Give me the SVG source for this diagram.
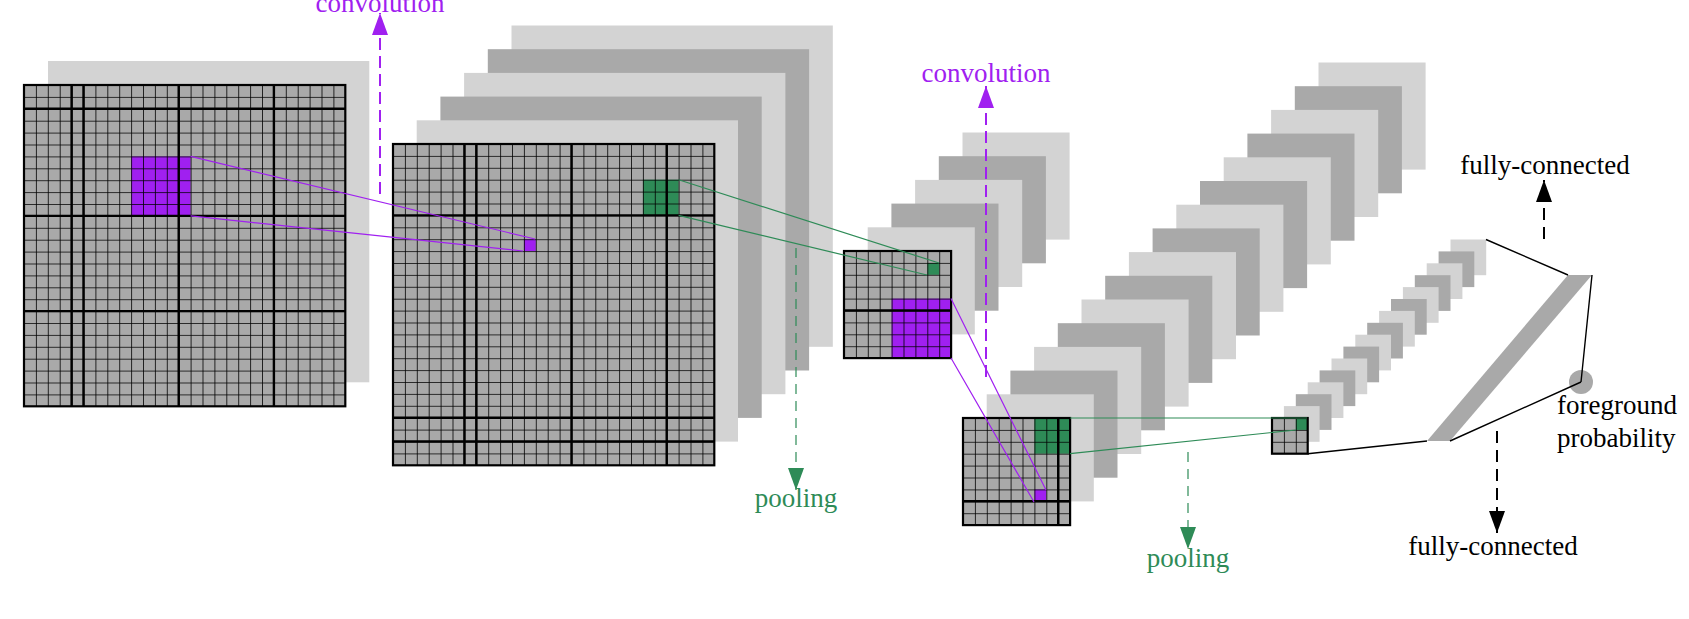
<svg xmlns="http://www.w3.org/2000/svg" width="1689" height="619" viewBox="0 0 1689 619">
<style>
.l{fill:#d3d3d3}.d{fill:#a9a9a9}
.cell{fill:#a9a9a9}
.thin{fill:url(#gp)}
.thk{stroke:#000;stroke-width:2.4;fill:none}
.bd{fill:none;stroke:#000;stroke-width:2.2}
.pp{fill:#a020f0}.gg{fill:#2e8b57}
.cp{stroke:#a020f0;stroke-width:1.2;fill:none}
.cg{stroke:#2e8b57;stroke-width:1.2;fill:none}
.ck{stroke:#000;stroke-width:1.4;fill:none}
text{font-family:"Liberation Serif",serif;font-size:27px}
</style>
<defs>
<pattern id="gp" patternUnits="userSpaceOnUse" width="11.9" height="11.9"><path d="M0 0H11.9M0 0V11.9" stroke="#000" stroke-width="1.6" fill="none"/></pattern>
<marker id="ap" viewBox="0 0 22 16" refX="22" refY="8" markerWidth="22" markerHeight="16" markerUnits="userSpaceOnUse" orient="auto"><path d="M0 0L22 8L0 16z" fill="#a020f0"/></marker>
<marker id="ag" viewBox="0 0 22 16" refX="22" refY="8" markerWidth="22" markerHeight="16" markerUnits="userSpaceOnUse" orient="auto"><path d="M0 0L22 8L0 16z" fill="#2e8b57"/></marker>
<marker id="ak" viewBox="0 0 22 16" refX="22" refY="8" markerWidth="22" markerHeight="16" markerUnits="userSpaceOnUse" orient="auto"><path d="M0 0L22 8L0 16z" fill="#000"/></marker>
</defs>
<rect width="1689" height="619" fill="#fff"/>

<g id="layer1">
<rect class="l" x="48" y="61" width="321.3" height="321.3"/>
<g transform="translate(24,85)">
<rect class="cell" width="321.3" height="321.3"/>
<rect class="pp" x="107.1" y="71.4" width="59.5" height="59.5"/>
<rect class="thin" width="321.3" height="321.3"/>
<path class="thk" d="M47.6 0V321.3M59.5 0V321.3M154.7 0V321.3M249.9 0V321.3M0 23.8H321.3M0 130.9H321.3M0 226.1H321.3"/>
<rect class="bd" width="321.3" height="321.3"/>
</g>
</g>

<g id="layer2">
<rect class="l" x="511.5" y="25.5" width="321.3" height="321.3"/>
<rect class="d" x="487.8" y="49.2" width="321.3" height="321.3"/>
<rect class="l" x="464.1" y="72.9" width="321.3" height="321.3"/>
<rect class="d" x="440.4" y="96.6" width="321.3" height="321.3"/>
<rect class="l" x="416.7" y="120.3" width="321.3" height="321.3"/>
<g transform="translate(393,144)">
<rect class="cell" width="321.3" height="321.3"/>
<rect class="gg" x="249.9" y="35.7" width="35.7" height="35.7"/>
<rect class="pp" x="130.9" y="95.2" width="11.9" height="11.9"/>
<rect class="thin" width="321.3" height="321.3"/>
<path class="thk" d="M71.4 0V321.3M83.3 0V321.3M178.5 0V321.3M273.7 0V321.3M0 71.4H321.3M0 273.7H321.3M0 297.5H321.3"/>
<rect class="bd" width="321.3" height="321.3"/>
</g>
</g>

<g id="layer3">
<rect class="l" x="962.5" y="132.5" width="107.1" height="107.1"/>
<rect class="d" x="938.8" y="156.2" width="107.1" height="107.1"/>
<rect class="l" x="915.1" y="179.9" width="107.1" height="107.1"/>
<rect class="d" x="891.4" y="203.6" width="107.1" height="107.1"/>
<rect class="l" x="867.7" y="227.3" width="107.1" height="107.1"/>
<g transform="translate(844,251)">
<rect class="cell" width="107.1" height="107.1"/>
<rect class="gg" x="83.3" y="11.9" width="11.9" height="11.9"/>
<rect class="pp" x="47.6" y="47.6" width="59.5" height="59.5"/>
<rect class="thin" width="107.1" height="107.1"/>
<path class="thk" d="M0 59.5H107.1"/>
<rect class="bd" width="107.1" height="107.1"/>
</g>
</g>

<g id="layer4">
<rect class="l" x="1318.5" y="62.5" width="107.1" height="107.1"/>
<rect class="d" x="1294.8" y="86.2" width="107.1" height="107.1"/>
<rect class="l" x="1271.1" y="109.9" width="107.1" height="107.1"/>
<rect class="d" x="1247.4" y="133.6" width="107.1" height="107.1"/>
<rect class="l" x="1223.7" y="157.3" width="107.1" height="107.1"/>
<rect class="d" x="1200" y="181" width="107.1" height="107.1"/>
<rect class="l" x="1176.3" y="204.7" width="107.1" height="107.1"/>
<rect class="d" x="1152.6" y="228.4" width="107.1" height="107.1"/>
<rect class="l" x="1128.9" y="252.1" width="107.1" height="107.1"/>
<rect class="d" x="1105.2" y="275.8" width="107.1" height="107.1"/>
<rect class="l" x="1081.5" y="299.5" width="107.1" height="107.1"/>
<rect class="d" x="1057.8" y="323.2" width="107.1" height="107.1"/>
<rect class="l" x="1034.1" y="346.9" width="107.1" height="107.1"/>
<rect class="d" x="1010.4" y="370.6" width="107.1" height="107.1"/>
<rect class="l" x="986.7" y="394.3" width="107.1" height="107.1"/>
<g transform="translate(963,418)">
<rect class="cell" width="107.1" height="107.1"/>
<rect class="gg" x="71.4" y="0" width="35.7" height="35.7"/>
<rect class="pp" x="71.4" y="71.4" width="11.9" height="11.9"/>
<rect class="thin" width="107.1" height="107.1"/>
<path class="thk" d="M0 83.3H107.1M95.2 0V107.1"/>
<rect class="bd" width="107.1" height="107.1"/>
</g>
</g>

<g id="layer5">
<rect class="l" x="1450.5" y="239.5" width="35.7" height="35.7"/>
<rect class="d" x="1438.6" y="251.4" width="35.7" height="35.7"/>
<rect class="l" x="1426.7" y="263.3" width="35.7" height="35.7"/>
<rect class="d" x="1414.8" y="275.2" width="35.7" height="35.7"/>
<rect class="l" x="1402.9" y="287.1" width="35.7" height="35.7"/>
<rect class="d" x="1391" y="299" width="35.7" height="35.7"/>
<rect class="l" x="1379.1" y="310.9" width="35.7" height="35.7"/>
<rect class="d" x="1367.2" y="322.8" width="35.7" height="35.7"/>
<rect class="l" x="1355.3" y="334.7" width="35.7" height="35.7"/>
<rect class="d" x="1343.4" y="346.6" width="35.7" height="35.7"/>
<rect class="l" x="1331.5" y="358.5" width="35.7" height="35.7"/>
<rect class="d" x="1319.6" y="370.4" width="35.7" height="35.7"/>
<rect class="l" x="1307.7" y="382.3" width="35.7" height="35.7"/>
<rect class="d" x="1295.8" y="394.2" width="35.7" height="35.7"/>
<rect class="l" x="1283.9" y="406.1" width="35.7" height="35.7"/>
<g transform="translate(1272,418)">
<rect class="cell" width="35.7" height="35.7"/>
<rect class="gg" x="23.8" y="0" width="11.9" height="11.9"/>
<rect class="thin" width="35.7" height="35.7"/>
<rect class="bd" width="35.7" height="35.7"/>
</g>
</g>

<g id="fc">
<path class="d" d="M1568 275H1592L1450 441H1427z"/>
</g>
<g id="output">
<circle class="d" cx="1581" cy="382" r="12"/>
</g>

<g id="connectors">
<path class="cp" d="M190.6 156.4L535 239M190.6 215.9L523 251"/>
<path class="cg" d="M678.6 179.7L939 263M678.6 215.4L927 275"/>
<path class="cp" d="M951 298.6L1046 490M951 358L1034 502"/>
<path class="cg" d="M1070 418H1307M1070 453.7L1296 430"/>
<path class="ck" d="M1486 239.5L1568 275M1592 275L1581 382M1581 382L1450 441M1307.7 453.7L1427 441"/>
<path d="M380 194V13" stroke="#a020f0" stroke-width="2" stroke-dasharray="12 6" fill="none" marker-end="url(#ap)"/>
<path d="M986 377V86" stroke="#a020f0" stroke-width="2" stroke-dasharray="12 6" fill="none" marker-end="url(#ap)"/>
<path d="M796 248V490" stroke="#2e8b57" stroke-width="1.2" stroke-dasharray="10 7" fill="none" marker-end="url(#ag)"/>
<path d="M1188 452V549" stroke="#2e8b57" stroke-width="1.2" stroke-dasharray="10 7" fill="none" marker-end="url(#ag)"/>
<path d="M1544 239V180" stroke="#000" stroke-width="2" stroke-dasharray="12 7" fill="none" marker-end="url(#ak)"/>
<path d="M1497 431V533" stroke="#000" stroke-width="2" stroke-dasharray="12 7" fill="none" marker-end="url(#ak)"/>
</g>

<g id="labels">
<text x="380" y="12" text-anchor="middle" fill="#a020f0">convolution</text>
<text x="986" y="82" text-anchor="middle" fill="#a020f0">convolution</text>
<text x="796" y="507" text-anchor="middle" fill="#2e8b57">pooling</text>
<text x="1188" y="567" text-anchor="middle" fill="#2e8b57">pooling</text>
<text x="1545" y="174" text-anchor="middle">fully-connected</text>
<text x="1493" y="555" text-anchor="middle">fully-connected</text>
<text x="1557" y="414">foreground</text>
<text x="1557" y="447">probability</text>
</g>
</svg>
